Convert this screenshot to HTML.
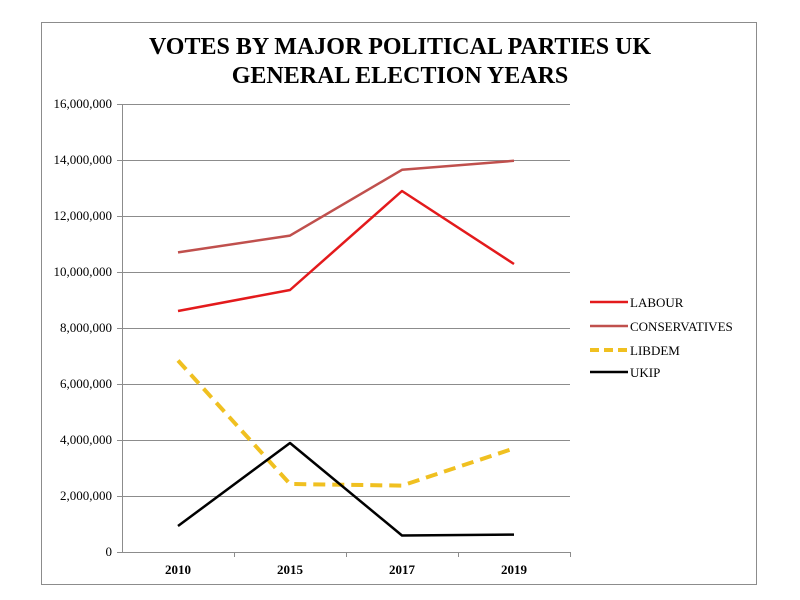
<!DOCTYPE html>
<html><head><style>body{margin:0;background:#fff}svg{display:block}</style></head><body>
<svg width="800" height="600" xmlns="http://www.w3.org/2000/svg" font-family="Liberation Serif, serif">
<rect x="41.5" y="22.5" width="715" height="562" fill="#fff" stroke="#8c8c8c"/>
<text x="400" y="54" text-anchor="middle" font-size="24" font-weight="bold">VOTES BY MAJOR POLITICAL PARTIES UK</text>
<text x="400" y="83" text-anchor="middle" font-size="24" font-weight="bold">GENERAL ELECTION YEARS</text>
<g stroke="#8c8c8c" stroke-width="1">
<line x1="122" y1="104.5" x2="570" y2="104.5"/><line x1="122" y1="160.5" x2="570" y2="160.5"/>
<line x1="122" y1="216.5" x2="570" y2="216.5"/><line x1="122" y1="272.5" x2="570" y2="272.5"/>
<line x1="122" y1="328.5" x2="570" y2="328.5"/><line x1="122" y1="384.5" x2="570" y2="384.5"/>
<line x1="122" y1="440.5" x2="570" y2="440.5"/><line x1="122" y1="496.5" x2="570" y2="496.5"/>
<line x1="122.5" y1="104" x2="122.5" y2="552"/><line x1="117" y1="552.5" x2="570" y2="552.5"/>
<line x1="117" y1="104.5" x2="122" y2="104.5"/><line x1="117" y1="160.5" x2="122" y2="160.5"/><line x1="117" y1="216.5" x2="122" y2="216.5"/><line x1="117" y1="272.5" x2="122" y2="272.5"/><line x1="117" y1="328.5" x2="122" y2="328.5"/><line x1="117" y1="384.5" x2="122" y2="384.5"/><line x1="117" y1="440.5" x2="122" y2="440.5"/><line x1="117" y1="496.5" x2="122" y2="496.5"/>
<line x1="234.5" y1="552" x2="234.5" y2="557"/><line x1="346.5" y1="552" x2="346.5" y2="557"/><line x1="458.5" y1="552" x2="458.5" y2="557"/><line x1="570.5" y1="552" x2="570.5" y2="557"/>
</g>
<g font-size="13" text-anchor="end">
<text x="112" y="108">16,000,000</text><text x="112" y="164">14,000,000</text><text x="112" y="220">12,000,000</text><text x="112" y="276">10,000,000</text><text x="112" y="332">8,000,000</text><text x="112" y="388">6,000,000</text><text x="112" y="444">4,000,000</text><text x="112" y="500">2,000,000</text><text x="112" y="556">0</text>
</g>
<g font-size="13" text-anchor="middle" font-weight="bold">
<text x="178" y="574">2010</text><text x="290" y="574">2015</text><text x="402" y="574">2017</text><text x="514" y="574">2019</text>
</g>
<g fill="none" stroke-width="2.5" stroke-linejoin="round">
<polyline points="178,252.4 290,235.6 402,169.8 514,160.8" stroke="#c0504d"/>
<polyline points="178,311 290,290 402,191 514,264" stroke="#e31a1c"/>
<polyline points="178,360.5 290,484 402,485.6 514,448.4" stroke="#f0c020" stroke-width="4" stroke-dasharray="12,7"/>
<polyline points="178,526 290,443 402,535.5 514,534.6" stroke="#000"/>
<line x1="590" y1="302" x2="628" y2="302" stroke="#e31a1c"/>
<line x1="590" y1="326" x2="628" y2="326" stroke="#c0504d"/>
<line x1="590" y1="350" x2="628" y2="350" stroke="#f0c020" stroke-width="4" stroke-dasharray="9,5"/>
<line x1="590" y1="372" x2="628" y2="372" stroke="#000"/>
</g>
<g font-size="13">
<text x="630" y="307">LABOUR</text><text x="630" y="331">CONSERVATIVES</text><text x="630" y="355">LIBDEM</text><text x="630" y="377">UKIP</text>
</g>
</svg>
</body></html>
